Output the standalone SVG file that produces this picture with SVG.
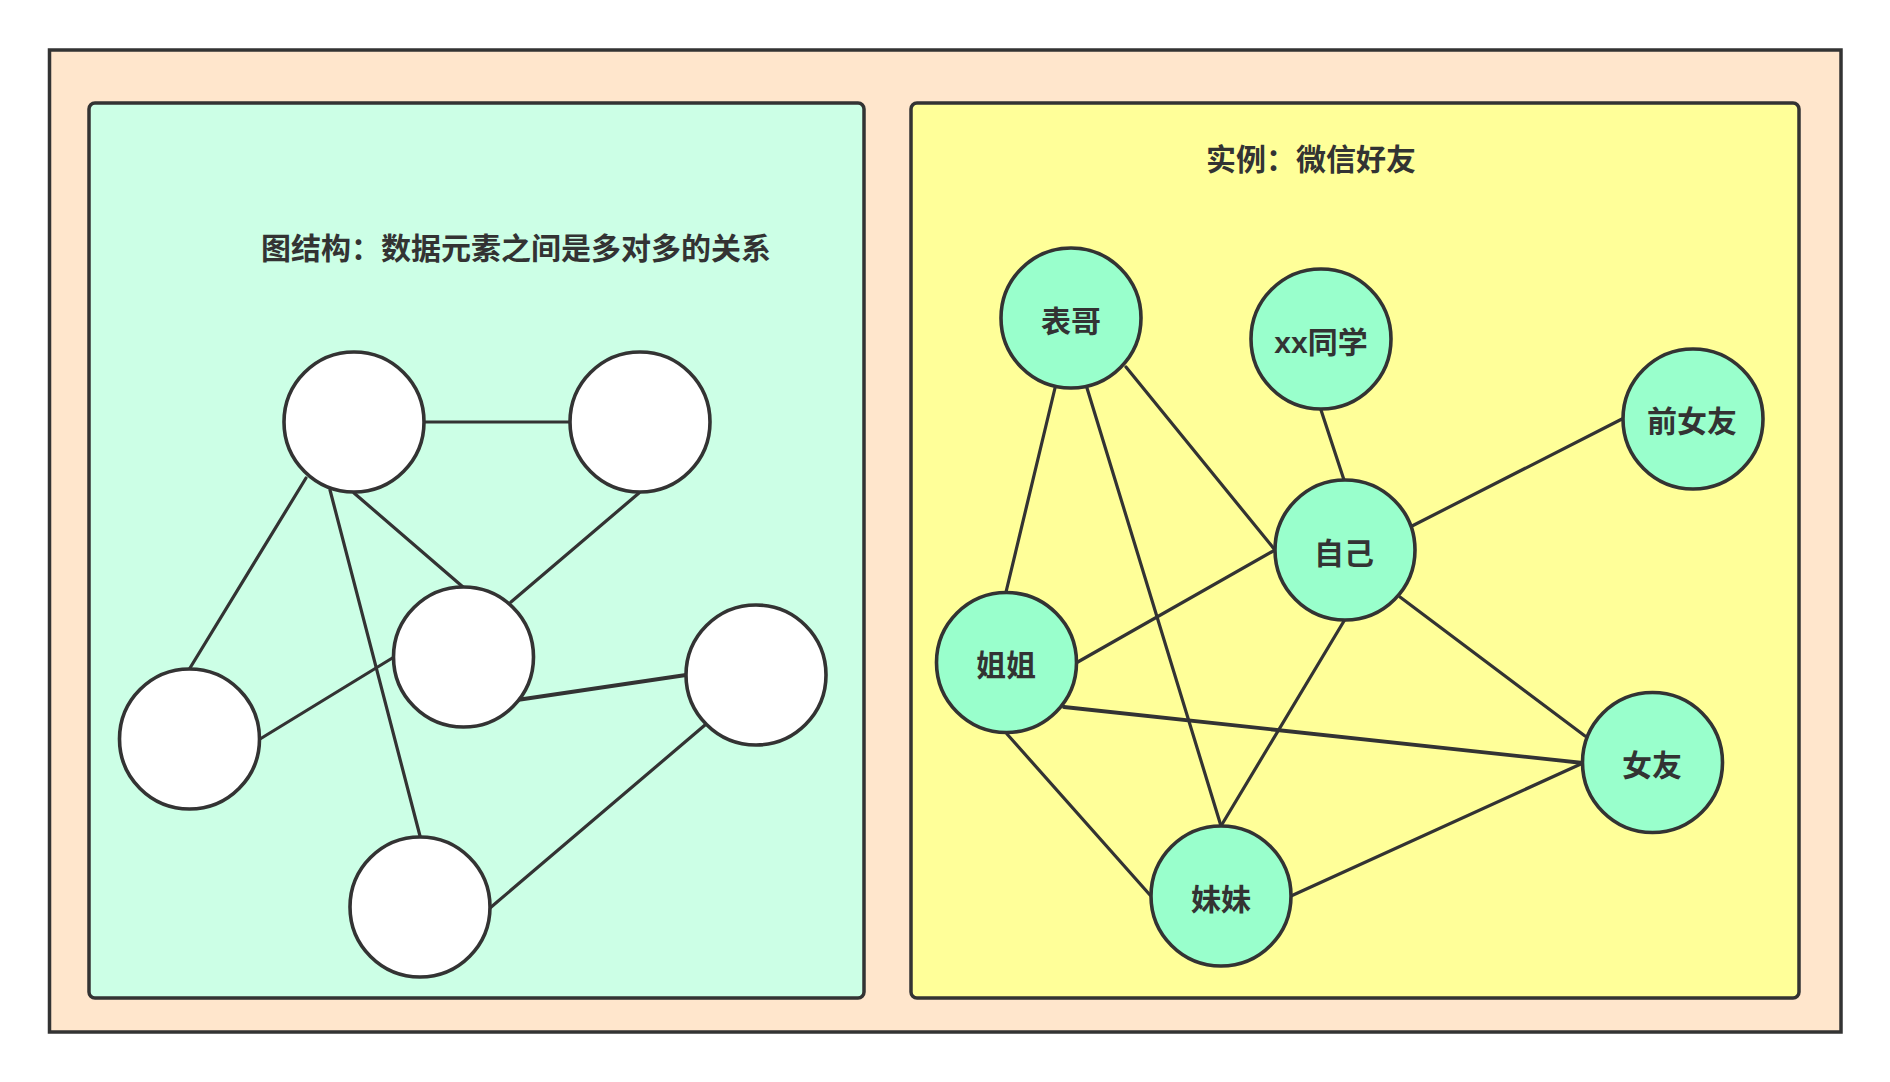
<svg xmlns="http://www.w3.org/2000/svg" width="1890" height="1082" viewBox="0 0 1890 1082">
  <style>
    .frame { stroke: #333333; stroke-width: 3.5; }
    .edge { stroke: #333333; stroke-width: 3.2; fill: none; stroke-linecap: round; }
    .plain { fill: #FFFFFF; stroke: #333333; stroke-width: 3.6; }
    .friend { fill: #99FFCC; stroke: #333333; stroke-width: 3.6; }
    .title, .label { font-family: "Liberation Sans", "Noto Sans CJK SC", sans-serif; font-weight: bold; font-size: 30px; fill: #333333; text-anchor: middle; dominant-baseline: central; }
  </style>
  <rect width="1890" height="1082" fill="#FFFFFF"/>
  <g id="outer-frame">
    <rect x="49.5" y="50" width="1791.5" height="982" fill="#FFE6CC" class="frame"/>
  </g>
  <g id="panel-left">
    <rect x="89" y="103" width="775" height="895" rx="6" fill="#CCFFE6" class="frame"/>
    <text class="title" x="516" y="248">图结构：数据元素之间是多对多的关系</text>
  </g>
  <g id="panel-right">
    <rect x="911" y="103" width="888" height="895" rx="6" fill="#FFFF99" class="frame"/>
    <text class="title" x="1311" y="159">实例：微信好友</text>
  </g>

  <g id="connectors">
    <!-- left graph -->
    <line class="edge" x1="424" y1="422" x2="570" y2="422"/>
    <line class="edge" x1="306" y1="478" x2="190" y2="668"/>
    <line class="edge" x1="330" y1="490" x2="420" y2="836"/>
    <line class="edge" x1="354" y1="493" x2="463" y2="587"/>
    <line class="edge" x1="639" y1="493" x2="511" y2="602"/>
    <line class="edge" x1="394" y1="657" x2="260" y2="739"/>
    <line class="edge" x1="517" y1="700" x2="686" y2="675" style="stroke-width:3.8"/>
    <line class="edge" x1="705" y1="725" x2="490" y2="908"/>
    <!-- right graph -->
    <line class="edge" x1="1055" y1="388" x2="1006" y2="592"/>
    <line class="edge" x1="1087" y1="388" x2="1221" y2="826"/>
    <line class="edge" x1="1126" y1="367" x2="1275" y2="550"/>
    <line class="edge" x1="1321" y1="410" x2="1344" y2="480"/>
    <line class="edge" x1="1412" y1="526" x2="1622" y2="419"/>
    <line class="edge" x1="1275" y1="550" x2="1076" y2="663"/>
    <line class="edge" x1="1400" y1="597" x2="1585" y2="736"/>
    <line class="edge" x1="1344" y1="621" x2="1221" y2="826"/>
    <line class="edge" x1="1064" y1="707" x2="1583" y2="763" style="stroke-width:3.8"/>
    <line class="edge" x1="1007" y1="734" x2="1150" y2="895"/>
    <line class="edge" x1="1291" y1="896" x2="1583" y2="763"/>
  </g>

  <g id="node-a"><circle class="plain" cx="354" cy="422" r="70"/></g>
  <g id="node-b"><circle class="plain" cx="640" cy="422" r="70"/></g>
  <g id="node-c"><circle class="plain" cx="463.5" cy="657" r="70"/></g>
  <g id="node-d"><circle class="plain" cx="756" cy="675" r="70"/></g>
  <g id="node-e"><circle class="plain" cx="189.5" cy="739" r="70"/></g>
  <g id="node-f"><circle class="plain" cx="420" cy="907" r="70"/></g>

  <g id="node-biaoge"><circle class="friend" cx="1071" cy="318" r="70"/><text class="label" x="1071" y="321">表哥</text></g>
  <g id="node-tongxue"><circle class="friend" cx="1321" cy="339" r="70"/><text class="label" x="1321" y="342">xx同学</text></g>
  <g id="node-qiannvyou"><circle class="friend" cx="1693" cy="419" r="70"/><text class="label" x="1692" y="421">前女友</text></g>
  <g id="node-ziji"><circle class="friend" cx="1345" cy="550" r="70"/><text class="label" x="1344" y="553">自己</text></g>
  <g id="node-jiejie"><circle class="friend" cx="1006.5" cy="662.5" r="70"/><text class="label" x="1006" y="665">姐姐</text></g>
  <g id="node-nvyou"><circle class="friend" cx="1652.5" cy="762.5" r="70"/><text class="label" x="1652" y="765">女友</text></g>
  <g id="node-meimei"><circle class="friend" cx="1221" cy="896" r="70"/><text class="label" x="1221" y="899">妹妹</text></g>
</svg>
